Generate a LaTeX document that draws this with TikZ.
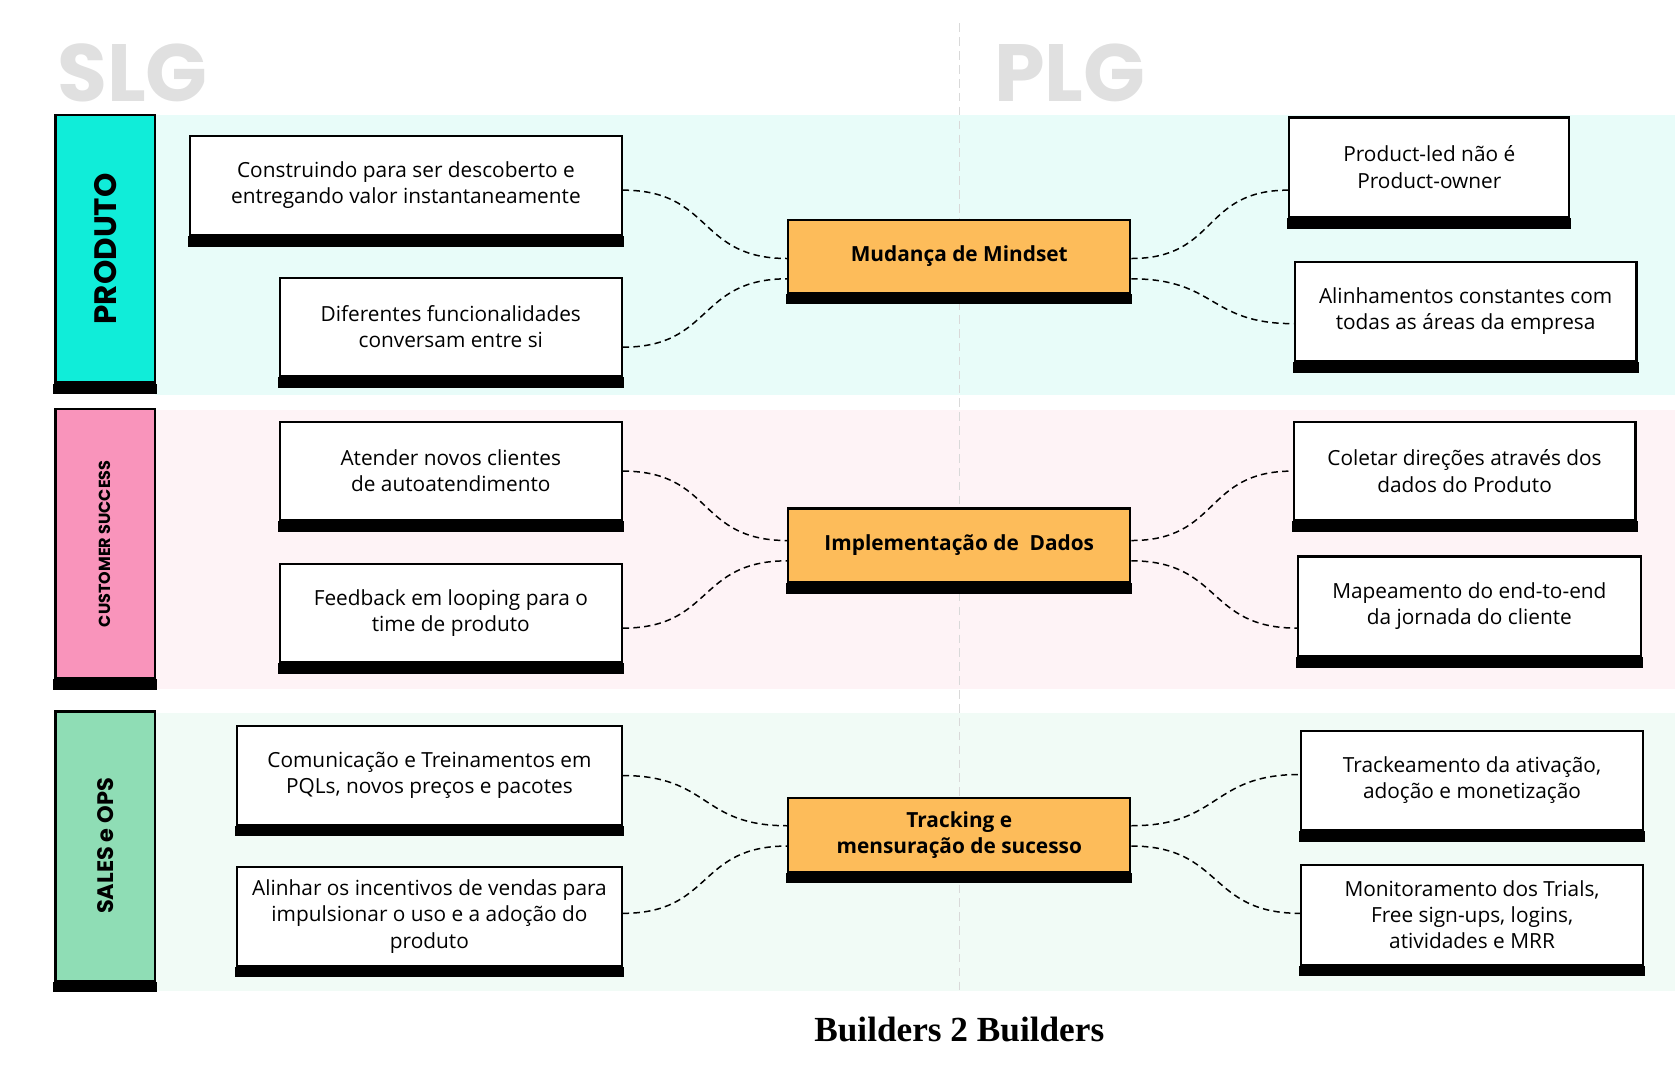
\documentclass[tikz,border=0pt]{standalone}
\usepackage{fontspec}
\setmainfont{Open Sans}
\newfontfamily\titlefont{Liberation Serif}
\newfontfamily\sidefont{Poppins}
\begin{document}
\begin{tikzpicture}[x=1pt,y=-1pt,
  box/.style={draw,line width=2pt,fill=white,align=center,inner sep=2pt,font=\fontsize{19.5}{24.5}\selectfont},
  cbox/.style={box,fill=corange,font=\fontsize{19.5}{24.5}\selectfont\bfseries},
  side/.style={draw,line width=2pt,inner sep=0pt,minimum width=93},
  conn/.style={line width=1.4pt,dash pattern=on 6pt off 4pt,looseness=1.3},
  big/.style={text=black!12,font=\sidefont\fontsize{76}{76}\selectfont\bfseries}]
\definecolor{corange}{HTML}{FDBC5A}
\definecolor{bandA}{HTML}{E8FCF9}\definecolor{bandB}{HTML}{FEF3F6}\definecolor{bandC}{HTML}{F1FBF6}
\definecolor{sideA}{HTML}{10EDD9}\definecolor{sideB}{HTML}{F994BB}\definecolor{sideC}{HTML}{8FDDB5}
\useasboundingbox (0,0) rectangle (1568,1011);
\fill[bandA] (145,108) rectangle (1568,370);
\fill[bandB] (145,384) rectangle (1568,645);
\fill[bandC] (145,667) rectangle (1568,928);
\draw[black!15,line width=1.2pt,dash pattern=on 8pt off 5pt] (898,22) -- (898,928);
\node[big,anchor=west] (slg) at (50,68) {SLG};
\node[big,anchor=west] (plg) at (927,68) {PLG};
% side labels
\node[side,fill=sideA,minimum height=250] (sa) at (98.5,233) {};
\node[rotate=90,font=\sidefont\bfseries\fontsize{29}{29}\selectfont] at (sa.center) {PRODUTO};
\node[side,fill=sideB,minimum height=252] (sb) at (98.5,509) {};
\node[rotate=90,font=\sidefont\bfseries\fontsize{15}{15}\selectfont] at (sb.center) {CUSTOMER SUCCESS};
\node[side,fill=sideC,minimum height=252] (sc) at (98.5,792) {};
\node[rotate=90,font=\sidefont\bfseries\fontsize{21}{21}\selectfont] at (sc.center) {SALES e OPS};
% left boxes
\node[box,minimum width=404,minimum height=93] (l1) at (380,173.5) {Construindo para ser descoberto e\\entregando valor instantaneamente};
\node[box,minimum width=320,minimum height=92] (l2) at (422,306) {Diferentes funcionalidades\\conversam entre si};
\node[box,minimum width=320,minimum height=92] (l3) at (422,441) {Atender novos clientes\\de autoatendimento};
\node[box,minimum width=320,minimum height=92] (l4) at (422,574) {Feedback em looping para o\\time de produto};
\node[box,minimum width=360,minimum height=92] (l5) at (402,726) {Comunicação e Treinamentos em\\PQLs, novos preços e pacotes};
\node[box,minimum width=360,minimum height=92] (l6) at (402,858) {Alinhar os incentivos de vendas para\\impulsionar o uso e a adoção do\\produto};
% center
\node[cbox,minimum width=320,minimum height=68] (c1) at (898,240) {Mudança de Mindset};
\node[cbox,minimum width=320,minimum height=69] (c2) at (898,510.5) {Implementação de \ Dados};
\node[cbox,minimum width=320,minimum height=69] (c3) at (898,781.5) {Tracking e\\mensuração de sucesso};
% right
\node[box,minimum width=262,minimum height=93] (r1) at (1338,156.5) {Product-led não é\\Product-owner};
\node[box,minimum width=320,minimum height=93] (r2) at (1372,291.5) {Alinhamentos constantes com\\todas as áreas da empresa};
\node[box,minimum width=320,minimum height=92] (r3) at (1371,441) {Coletar direções através dos\\dados do Produto};
\node[box,minimum width=321,minimum height=93] (r4) at (1375.5,567.5) {Mapeamento do end-to-end\\da jornada do cliente};
\node[box,minimum width=320,minimum height=93] (r5) at (1378,730.5) {Trackeamento da ativação,\\adoção e monetização};
\node[box,minimum width=320,minimum height=93] (r6) at (1378,856.5) {Monitoramento dos Trials,\\Free sign-ups, logins,\\atividades e MRR};
\foreach \n in {sa,sb,sc,l1,l2,l3,l4,l5,l6,c1,c2,c3,r1,r2,r3,r4,r5,r6}
  \fill ([xshift=-1pt]\n.south west) rectangle ([xshift=1pt,yshift=-10pt]\n.south east);
% connectors
\draw[conn] ([yshift=-4.5pt]l1.east) to[out=0,in=180] ([yshift=-2pt]c1.west);
\draw[conn] ([yshift=-19pt]l2.east) to[out=0,in=180] ([yshift=-21pt]c1.west);
\draw[conn] (l3.east) to[out=0,in=180] ([yshift=4.5pt]c2.west);
\draw[conn] ([yshift=-14pt]l4.east) to[out=0,in=180] ([yshift=-14.5pt]c2.west);
\draw[conn] (l5.east) to[out=0,in=180] ([yshift=8.5pt]c3.west);
\draw[conn] ([yshift=3pt]l6.east) to[out=0,in=180] ([yshift=-10.5pt]c3.west);
\draw[conn] ([yshift=-2pt]c1.east) to[out=0,in=180] ([yshift=-21.5pt]r1.west);
\draw[conn] ([yshift=-21pt]c1.east) to[out=0,in=180] ([yshift=-11.5pt]r2.west);
\draw[conn] ([yshift=4.5pt]c2.east) to[out=0,in=180] (r3.west);
\draw[conn] ([yshift=-14.5pt]c2.east) to[out=0,in=180] ([yshift=-20.5pt]r4.west);
\draw[conn] ([yshift=8.5pt]c3.east) to[out=0,in=180] ([yshift=5.5pt]r5.west);
\draw[conn] ([yshift=-10.5pt]c3.east) to[out=0,in=180] ([yshift=1.5pt]r6.west);
\node[font=\titlefont\bfseries\fontsize{33}{33}\selectfont] (t) at (898,964) {Builders 2 Builders};
\end{tikzpicture}
\end{document}
